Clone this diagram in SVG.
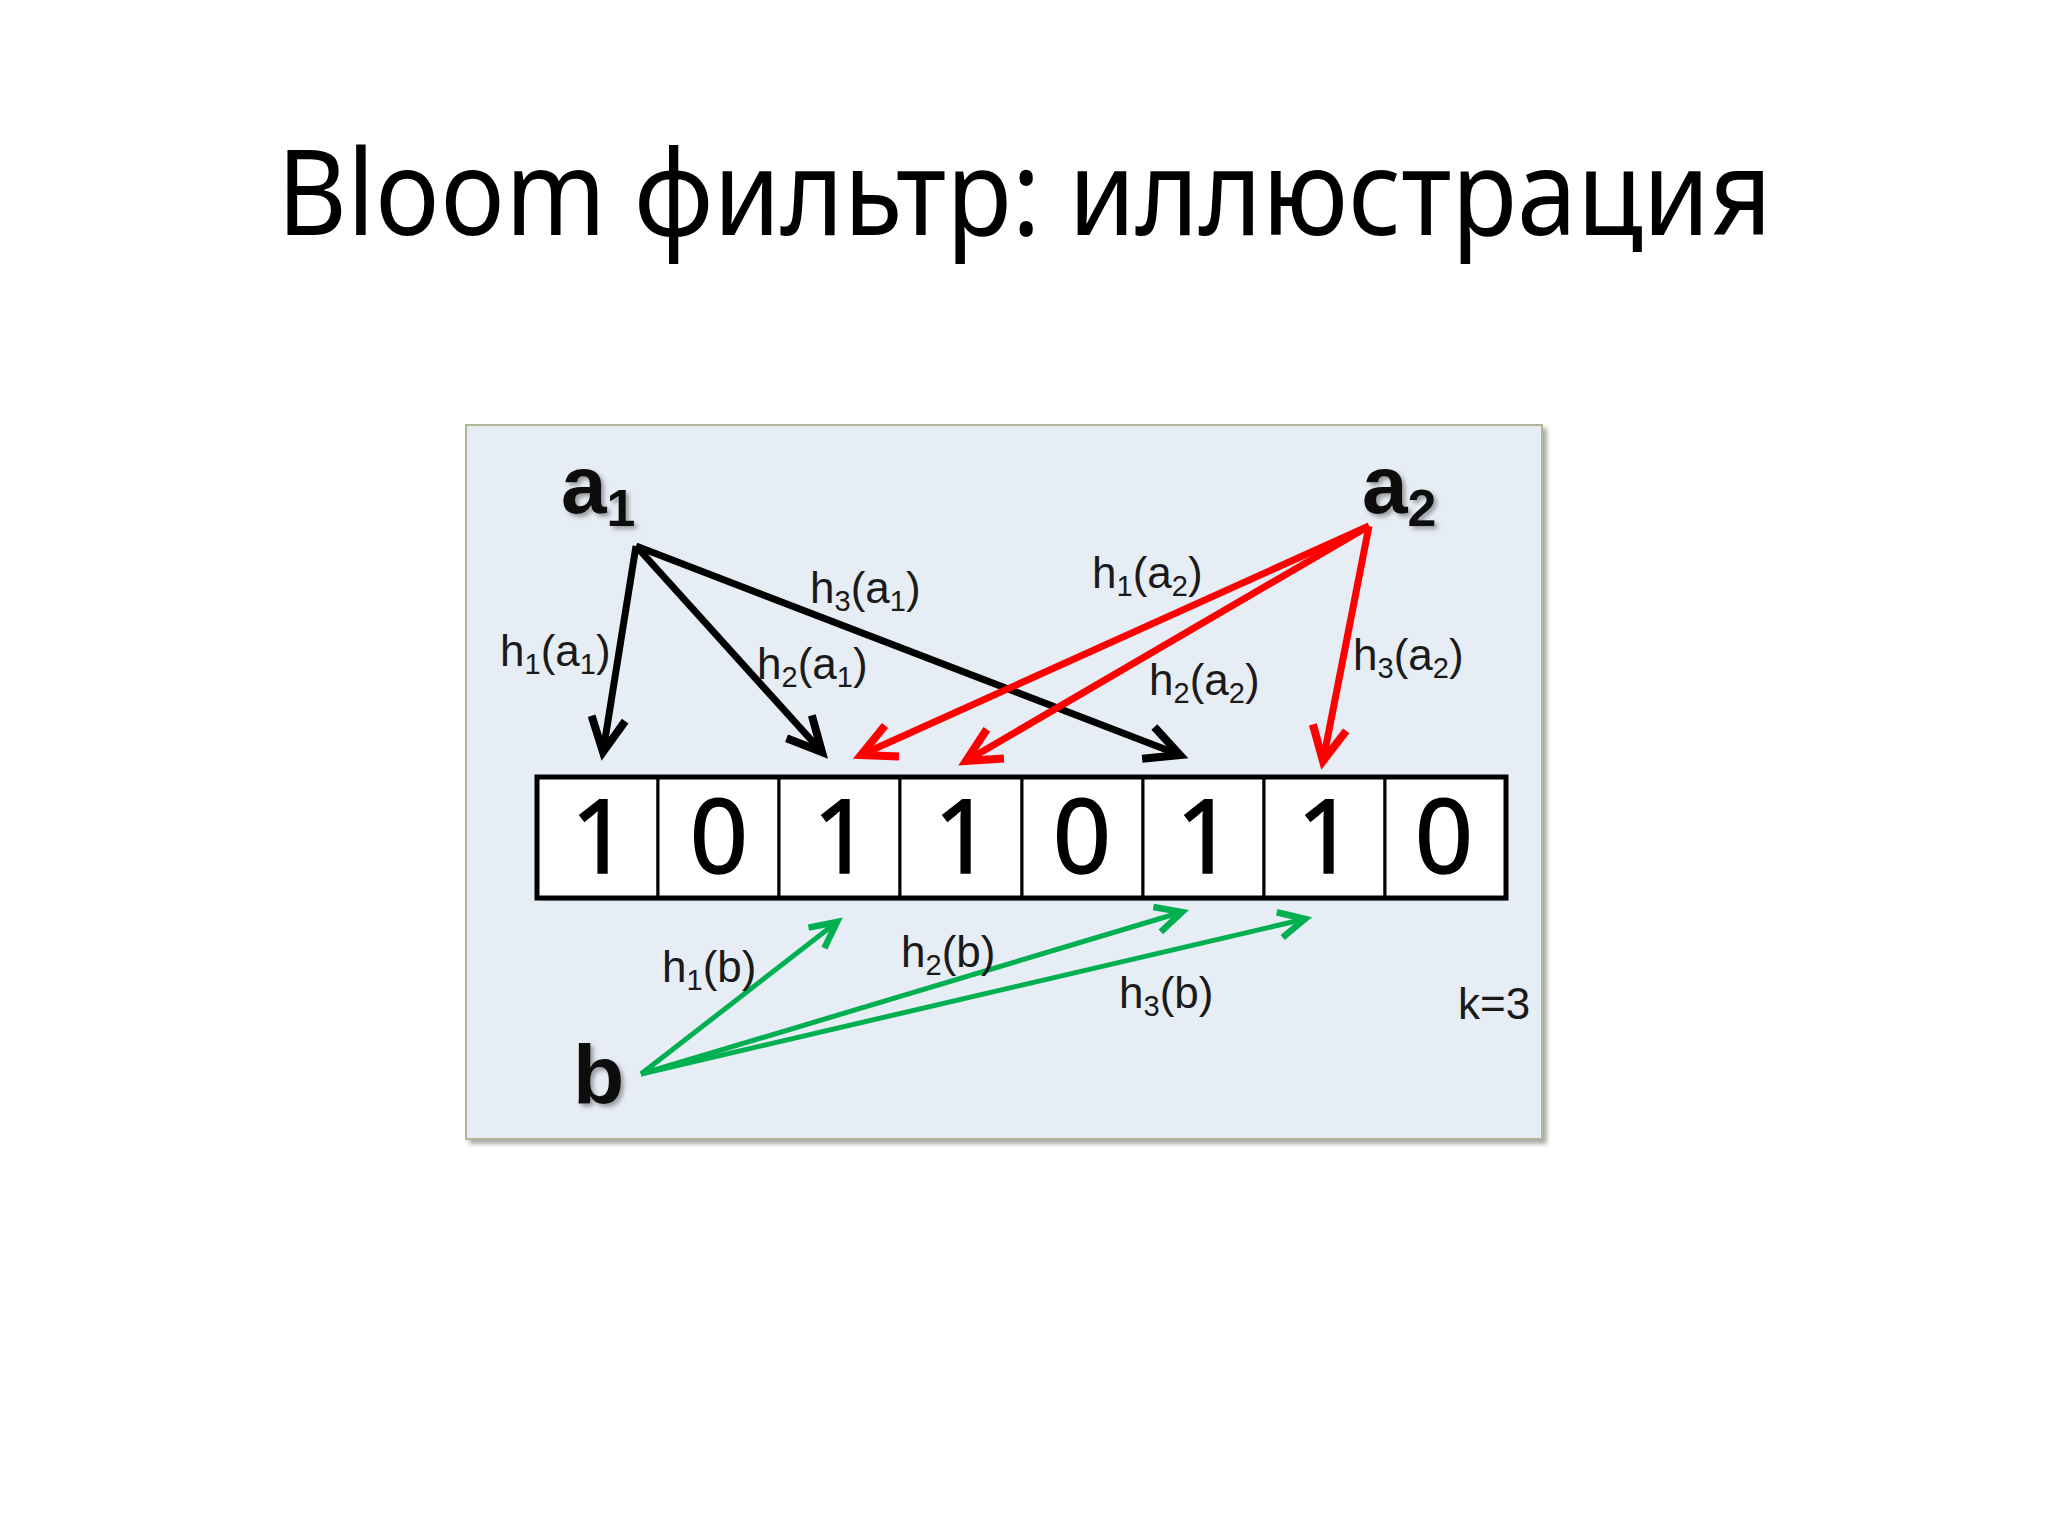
<svg xmlns="http://www.w3.org/2000/svg" width="2048" height="1536" viewBox="0 0 2048 1536">
  <defs>
    <style>
      .title { font-family: "Noto Sans", "Open Sans", sans-serif; font-size: 118px; fill: #000; }
      .digit { font-family: "Noto Sans", "Open Sans", sans-serif; font-size: 102px; fill: #000; text-anchor: middle; stroke: #000; stroke-width: 1.5; }
      .node { font-family: "Liberation Sans", Arial, sans-serif; font-weight: bold; fill: #111; }
      .lbl { font-family: "Liberation Sans", Arial, sans-serif; font-size: 44px; fill: #1a1a1a; }
      .sub { font-size: 29px; }
      .cell { fill: #ffffff; stroke: #000; stroke-width: 3; }
      .blk { stroke: #000; stroke-width: 7; fill: none; marker-end: url(#mBlack); }
      .red { stroke: #ff0000; stroke-width: 7; fill: none; marker-end: url(#mRed); }
      .grn { stroke: #00b050; stroke-width: 5; fill: none; marker-end: url(#mGreen); }
    </style>
    <marker id="mBlack" markerUnits="userSpaceOnUse" orient="auto" refX="0" refY="0" markerWidth="60" markerHeight="60" viewBox="-50 -30 60 60" overflow="visible">
      <path d="M -34 -17 L 0 0 L -34 17" fill="none" stroke="#000" stroke-width="8" stroke-linejoin="miter"/>
    </marker>
    <marker id="mRed" markerUnits="userSpaceOnUse" orient="auto" refX="0" refY="0" markerWidth="60" markerHeight="60" viewBox="-50 -30 60 60" overflow="visible">
      <path d="M -34 -17 L 0 0 L -34 17" fill="none" stroke="#ff0000" stroke-width="8" stroke-linejoin="miter"/>
    </marker>
    <marker id="mGreen" markerUnits="userSpaceOnUse" orient="auto" refX="0" refY="0" markerWidth="60" markerHeight="60" viewBox="-50 -30 60 60" overflow="visible">
      <path d="M -26 -13 L 0 0 L -26 13" fill="none" stroke="#00b050" stroke-width="6.5" stroke-linejoin="miter"/>
    </marker>
    <filter id="shadow" x="-20%" y="-20%" width="140%" height="140%">
      <feDropShadow dx="3" dy="3" stdDeviation="2" flood-color="#666" flood-opacity="0.6"/>
    </filter>
    <filter id="panelShadow" x="-5%" y="-5%" width="110%" height="110%">
      <feDropShadow dx="4" dy="4" stdDeviation="2" flood-color="#888" flood-opacity="0.7"/>
    </filter>
  </defs>

  <rect width="2048" height="1536" fill="#ffffff"/>

  <text class="title" x="277" y="235" textLength="1495" lengthAdjust="spacingAndGlyphs">Bloom фильтр: иллюстрация</text>

  <g id="panel">
    <rect x="466" y="425" width="1076" height="714" fill="#e7edf5" stroke="#b2b596" stroke-width="2" filter="url(#panelShadow)"/>
  </g>

  <g id="array">
    <rect x="539" y="780" width="969" height="121" fill="#999" opacity="0.5"/>
    <rect class="cell" x="537" y="777" width="121" height="121"/>
    <rect class="cell" x="658" y="777" width="121" height="121"/>
    <rect class="cell" x="779" y="777" width="121" height="121"/>
    <rect class="cell" x="900" y="777" width="122" height="121"/>
    <rect class="cell" x="1022" y="777" width="121" height="121"/>
    <rect class="cell" x="1143" y="777" width="121" height="121"/>
    <rect class="cell" x="1264" y="777" width="121" height="121"/>
    <rect class="cell" x="1385" y="777" width="121" height="121"/>
    <rect x="537" y="777" width="969" height="121" fill="none" stroke="#000" stroke-width="5"/>
    <text class="digit" x="600" y="873">1</text>
    <text class="digit" x="719" y="873">0</text>
    <text class="digit" x="842" y="873">1</text>
    <text class="digit" x="963" y="873">1</text>
    <text class="digit" x="1082" y="873">0</text>
    <text class="digit" x="1205" y="873">1</text>
    <text class="digit" x="1326" y="873">1</text>
    <text class="digit" x="1444" y="873">0</text>
  </g>

  <g id="node-a1" filter="url(#shadow)">
    <text class="node" x="561" y="513" font-size="82">a<tspan font-size="52" dy="13">1</tspan></text>
  </g>
  <g id="node-a2" filter="url(#shadow)">
    <text class="node" x="1362" y="513" font-size="82">a<tspan font-size="52" dy="13">2</tspan></text>
  </g>
  <g id="node-b" filter="url(#shadow)">
    <text class="node" x="573" y="1104" font-size="84">b</text>
  </g>

  <g id="connectors">
    <line class="blk" x1="636" y1="546" x2="603" y2="752"/>
    <line class="blk" x1="636" y1="546" x2="822" y2="752"/>
    <line class="blk" x1="636" y1="546" x2="1180" y2="755"/>
    <line class="red" x1="1369" y1="526" x2="861" y2="755"/>
    <line class="red" x1="1369" y1="526" x2="966" y2="761"/>
    <line class="red" x1="1369" y1="526" x2="1323" y2="761"/>
    <line class="grn" x1="641" y1="1074" x2="837" y2="922"/>
    <line class="grn" x1="641" y1="1074" x2="1182" y2="912"/>
    <line class="grn" x1="641" y1="1074" x2="1305" y2="919"/>
  </g>

  <g id="labels">
    <text class="lbl" x="500" y="666">h<tspan class="sub" dy="8">1</tspan><tspan dy="-8">(a</tspan><tspan class="sub" dy="8">1</tspan><tspan dy="-8">)</tspan></text>
    <text class="lbl" x="757" y="679">h<tspan class="sub" dy="8">2</tspan><tspan dy="-8">(a</tspan><tspan class="sub" dy="8">1</tspan><tspan dy="-8">)</tspan></text>
    <text class="lbl" x="810" y="603">h<tspan class="sub" dy="8">3</tspan><tspan dy="-8">(a</tspan><tspan class="sub" dy="8">1</tspan><tspan dy="-8">)</tspan></text>
    <text class="lbl" x="1092" y="588">h<tspan class="sub" dy="8">1</tspan><tspan dy="-8">(a</tspan><tspan class="sub" dy="8">2</tspan><tspan dy="-8">)</tspan></text>
    <text class="lbl" x="1149" y="695">h<tspan class="sub" dy="8">2</tspan><tspan dy="-8">(a</tspan><tspan class="sub" dy="8">2</tspan><tspan dy="-8">)</tspan></text>
    <text class="lbl" x="1353" y="670">h<tspan class="sub" dy="8">3</tspan><tspan dy="-8">(a</tspan><tspan class="sub" dy="8">2</tspan><tspan dy="-8">)</tspan></text>
    <text class="lbl" x="662" y="982">h<tspan class="sub" dy="8">1</tspan><tspan dy="-8">(b)</tspan></text>
    <text class="lbl" x="901" y="967">h<tspan class="sub" dy="8">2</tspan><tspan dy="-8">(b)</tspan></text>
    <text class="lbl" x="1119" y="1008">h<tspan class="sub" dy="8">3</tspan><tspan dy="-8">(b)</tspan></text>
    <text class="lbl" x="1458" y="1019">k=3</text>
  </g>
</svg>
